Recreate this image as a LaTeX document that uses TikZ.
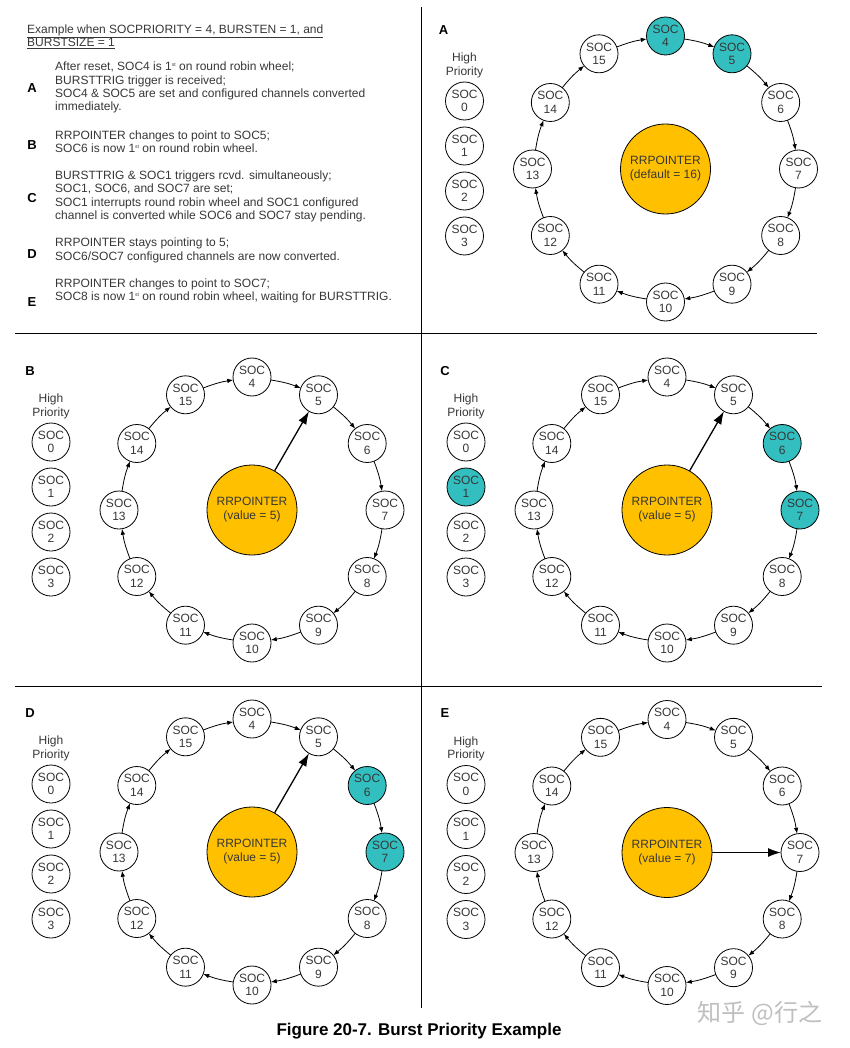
\documentclass[tikz,border=0pt]{standalone}
\usepackage{fontspec}
\setmainfont{Liberation Sans}
\newfontfamily\cjk{Noto Sans CJK SC}
\usetikzlibrary{positioning,arrows.meta}

\definecolor{socteal}{RGB}{51,191,191}
\definecolor{rrgold}{RGB}{255,192,0}
\definecolor{txtgray}{RGB}{55,55,55}

\newcommand{\st}{\raisebox{0.7ex}{\fontsize{5}{5}\selectfont st}}

% one round robin wheel: prefix, centre, pointer text, letter, extra options
\newcommand{\rrwheel}[5]{%
  \begin{scope}[shift={#2}, #5]
    \node[rr] (#1rr) at (0,0) {RRPOINTER\\(#3)};
    \foreach \k in {4,...,15}
      \node[soc, soc\k/.try] (#1s\k) at ({-90+(\k-4)*30}:133) {SOC\\\k};
    \foreach \k in {4,...,15} {
      \pgfmathtruncatemacro{\n}{mod(\k-3,12)+4}
      \draw[ring] (#1s\k) to[bend left=6] (#1s\n);
    }
    \node[letter] (#1lbl) at (-222,-139) {#4};
    \node[hplabel] (#1hp) at (-201,-103.5) {High\\Priority};
    \node[soc, hp0/.try] (#1h0) at (-201,-68) {SOC\\0};
    \node[soc, hp1/.try, below=7pt of #1h0] (#1h1) {SOC\\1};
    \node[soc, hp2/.try, below=7pt of #1h1] (#1h2) {SOC\\2};
    \node[soc, hp3/.try, below=7pt of #1h2] (#1h3) {SOC\\3};
  \end{scope}}

\begin{document}
\begin{tikzpicture}[x=1pt, y=-1pt,
    soc/.style={circle, draw, line width=0.8pt, minimum size=38pt, inner sep=0pt,
      outer sep=0pt, align=center, text=txtgray, font=\fontsize{12}{13.6}\selectfont},
    hot/.style={fill=socteal},
    rr/.style={circle, draw, line width=0.8pt, fill=rrgold, minimum size=90pt, inner sep=0pt,
      align=center, text=txtgray, font=\fontsize{12}{14}\selectfont},
    ring/.style={line width=0.8pt, -{Latex[length=6pt, width=4.5pt]}},
    ptr/.style={line width=1.3pt, -{Latex[length=13pt, width=9pt]}},
    letter/.style={font=\bfseries\fontsize{13}{15}\selectfont},
    hplabel/.style={align=center, inner sep=0pt, text=txtgray, font=\fontsize{12}{13.5}\selectfont},
    desc/.style={anchor=west, align=left, inner sep=0pt, text=txtgray,
      font=\fontsize{12}{13.4}\selectfont},
    divider/.style={line width=1.1pt}]
  \useasboundingbox (0,0) rectangle (849,1048);

  % description
  \node[desc] (title) at (27,37) {\underline{Example when SOCPRIORITY = 4, BURSTEN = 1, and}\\\underline{BURSTSIZE = 1}};
  \node[letter] (la) at (32,88.3) {A};
  \node[desc] (ta) at (55,87.7) {After reset, SOC4 is 1\st{} on round robin wheel;\\BURSTTRIG trigger is received;\\SOC4 \& SOC5 are set and configured channels converted\\immediately.};
  \node[letter] (lb) at (32,145) {B};
  \node[desc] (tb) at (55,142) {RRPOINTER changes to point to SOC5;\\SOC6 is now 1\st{} on round robin wheel.};
  \node[letter] (lc) at (32,197.7) {C};
  \node[desc] (tc) at (55,196.2) {BURSTTRIG \& SOC1 triggers rcvd. simultaneously;\\SOC1, SOC6, and SOC7 are set;\\SOC1 interrupts round robin wheel and SOC1 configured\\channel is converted while SOC6 and SOC7 stay pending.};
  \node[letter] (ld) at (32,254) {D};
  \node[desc] (td) at (55,250.3) {RRPOINTER stays pointing to 5;\\SOC6/SOC7 configured channels are now converted.};
  \node[letter] (le) at (32,301.7) {E};
  \node[desc] (te) at (55,290.8) {RRPOINTER changes to point to SOC7;\\SOC8 is now 1\st{} on round robin wheel, waiting for BURSTTRIG.};

  \draw[divider] (421.7,7) -- (421.7,1008);
  \draw[divider] (15,333.3) -- (817,333.3);
  \draw[divider] (15,686.5) -- (822,686.5);

  % wheels
  \rrwheel{a}{(665.5,169)}{default = 16}{A}{soc4/.style=hot, soc5/.style=hot}
  \rrwheel{b}{(252,510)}{value = 5}{B}{}
  \rrwheel{c}{(667,510)}{value = 5}{C}{soc6/.style=hot, soc7/.style=hot, hp1/.style=hot}
  \rrwheel{d}{(252,852)}{value = 5}{D}{soc6/.style=hot, soc7/.style=hot}
  \rrwheel{e}{(667,852.5)}{value = 7}{E}{}

  \draw[ptr] (brr) -- (bs5);
  \draw[ptr] (crr) -- (cs5);
  \draw[ptr] (drr) -- (ds5);
  \draw[ptr] (err) -- (es7);

  \node[font=\bfseries\fontsize{17}{20}\selectfont] (caption) at (419,1031) {Figure 20-7. Burst Priority Example};
  \node[text=black!25, font=\cjk\fontsize{24}{28}\selectfont] (mark) at (760,1013) {知乎 @行之};
\end{tikzpicture}
\end{document}
